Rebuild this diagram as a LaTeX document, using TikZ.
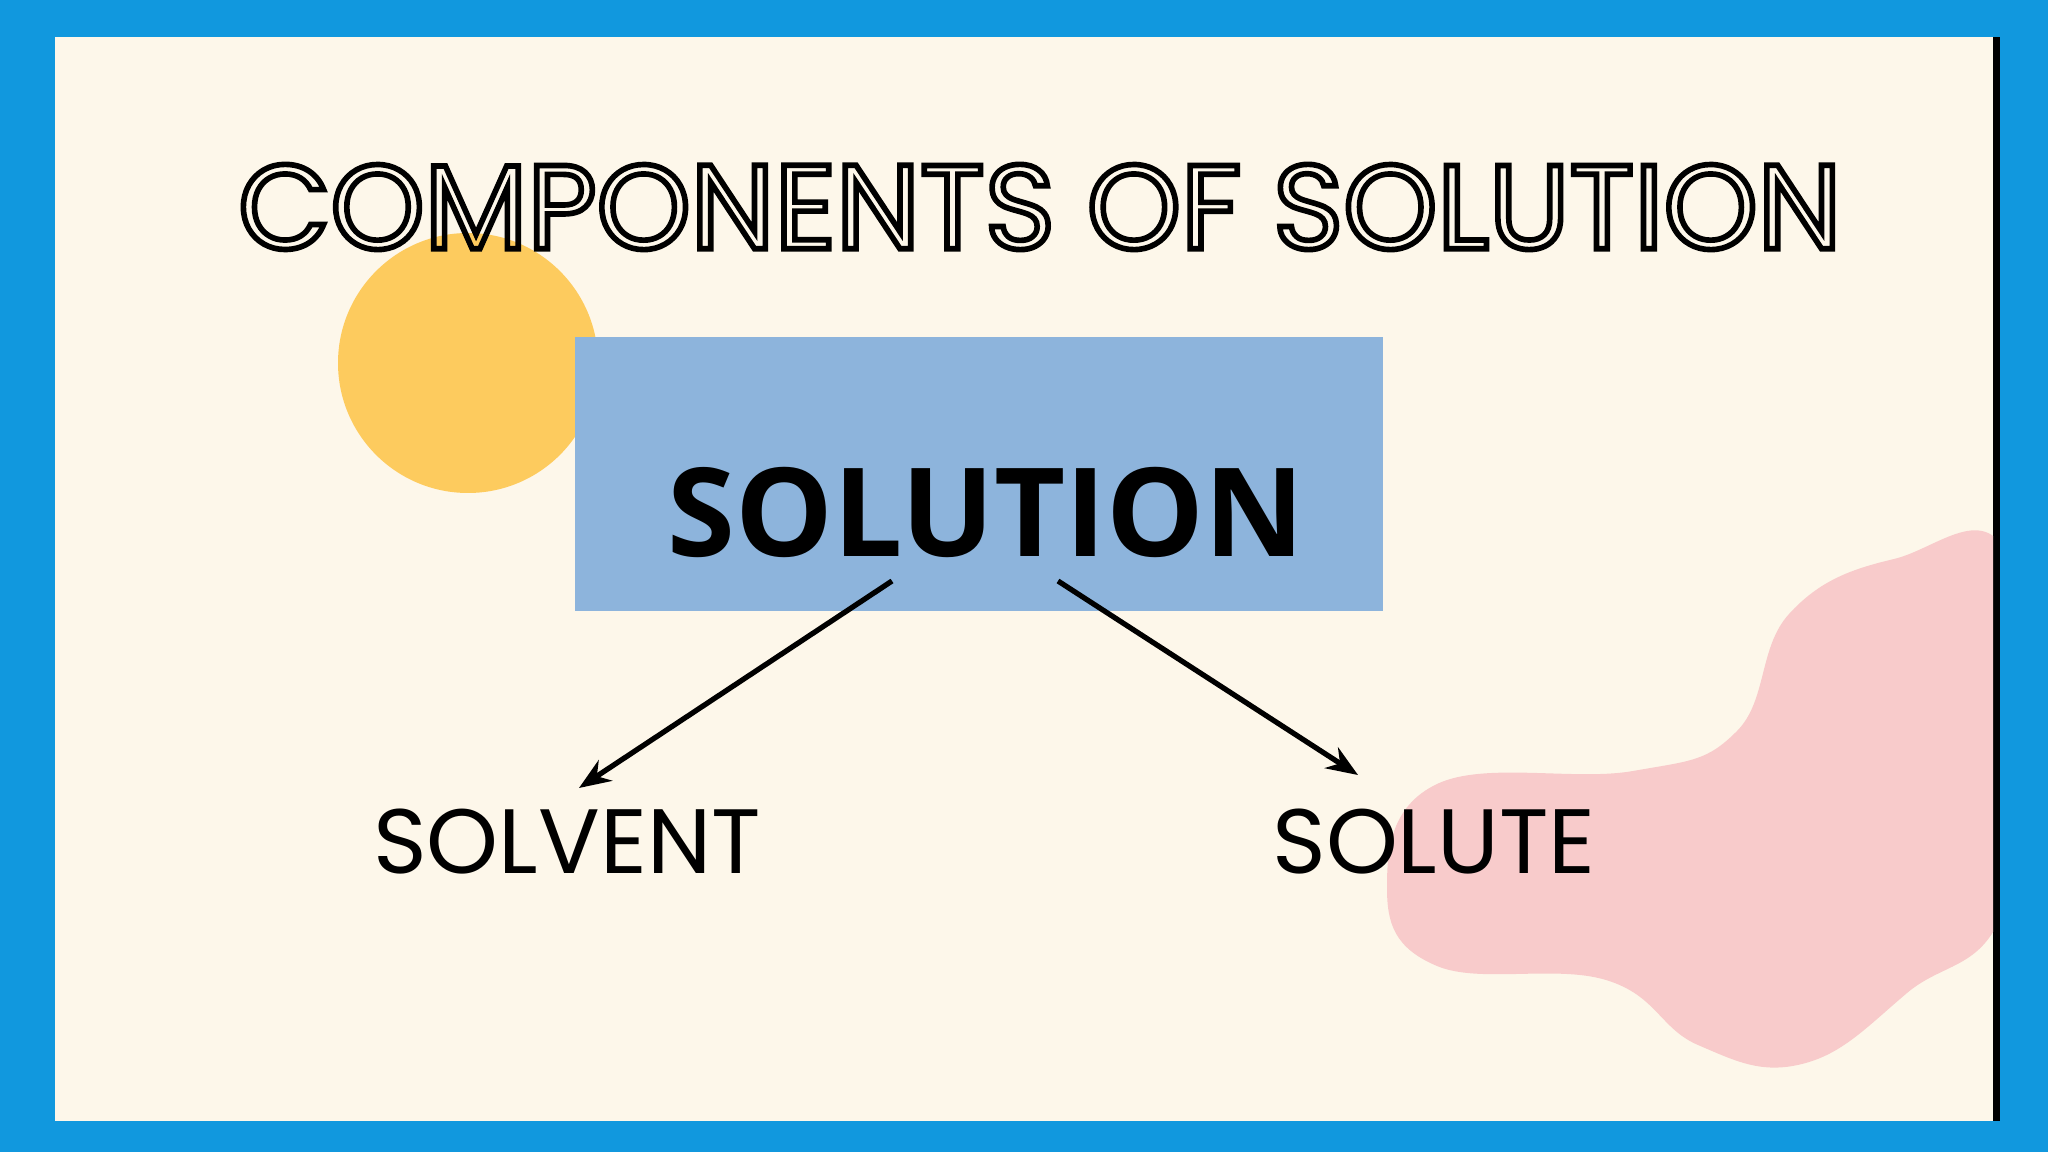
\documentclass[tikz,border=0pt]{standalone}
\usepackage{fontspec}
\setmainfont{Poppins}
\newfontfamily\boldsans{Open Sans}
\usetikzlibrary{arrows.meta}
\definecolor{frameblue}{HTML}{1198DE}
\definecolor{cream}{HTML}{FDF7EA}
\definecolor{boxblue}{HTML}{8DB4DC}
\definecolor{sunny}{HTML}{FDCB5E}
\definecolor{blush}{HTML}{F8CBCB}
\tikzset{lbl/.style={font=\fontsize{26}{30}\selectfont, inner sep=0pt},
  conn/.style={line width=1.5pt, -{Stealth[length=9pt,width=7pt]}}}
\begin{document}
\begin{tikzpicture}[x=0.01cm,y=-0.01cm]
\useasboundingbox (0,0) rectangle (2048,1152);
\fill[frameblue] (0,0) rectangle (2048,1152);
\fill[cream] (55,37) rectangle (1996,1121);
\fill[black] (1993,37) rectangle (2000,1121);
\begin{scope}
\clip (55,37) rectangle (1993,1121);
\fill[blush] plot[smooth cycle, tension=0.7] coordinates {(1387,888) (1437,784) (1633,771) (1737,731) (1789,614) (1894,559) (2010,562) (2010,888) (1907,993) (1802,1064) (1698,1045) (1606,980) (1437,966)};
\end{scope}
\fill[sunny] (468,363) circle (130);
\node[font=\fontsize{34}{38}\selectfont, inner sep=0pt] (title) at (1040,207)
  {\special{pdf:code 1 Tr 1.6 w}COMPONENTS OF SOLUTION\special{pdf:code 0 Tr}};
\node[fill=boxblue, minimum width=8.08cm, minimum height=2.74cm, inner sep=0pt] (box) at (979,474) {};
\node[font=\boldsans\bfseries\fontsize{35}{40}\selectfont, inner sep=0pt] (sol) at (986,512) {SOLUTION};
\node[lbl] (solvent) at (567,842) {SOLVENT};
\node[lbl] (solute) at (1434,842) {SOLUTE};
\coordinate (a1) at (892,581); \coordinate (a2) at (579,788);
\coordinate (b1) at (1058,581); \coordinate (b2) at (1358,775);
\draw[conn] (a1) -- (a2);
\draw[conn] (b1) -- (b2);
\end{tikzpicture}
\end{document}
